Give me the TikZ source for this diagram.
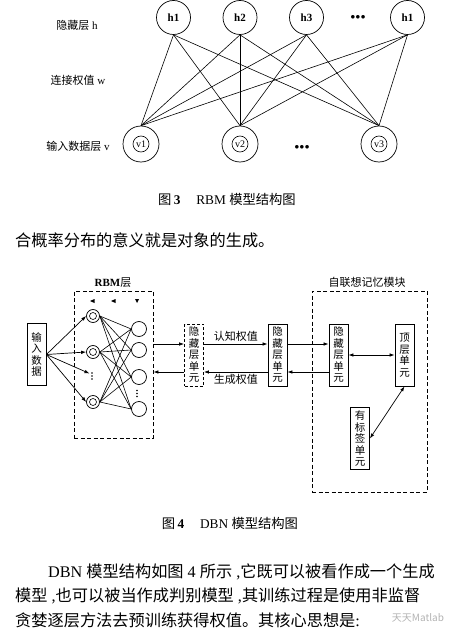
\documentclass[tikz,border=0pt]{standalone}
\usepackage{fontspec}
\setmainfont{Liberation Serif}
\newfontfamily\cjk{Noto Sans CJK SC}
\usetikzlibrary{arrows.meta,calc}
\tikzset{
  hnrn/.style={circle,draw,minimum size=34pt,inner sep=0pt,line width=0.7pt,font=\fontsize{11}{11}\selectfont\bfseries},
  vnrn/.style={circle,draw,minimum size=36pt,inner sep=0pt,line width=0.7pt},
  vin/.style={circle,draw,minimum size=16pt,inner sep=0pt,line width=0.6pt,font=\fontsize{10}{10}\selectfont},
  dotn/.style={inner sep=0pt,font=\fontsize{9}{9}\selectfont},
  lbl/.style={inner sep=1pt,font=\fontsize{11}{11}\selectfont},
  capt/.style={inner sep=0pt,font=\fontsize{13.3}{14}\selectfont},
  para/.style={anchor=west,inner sep=0pt,font=\fontsize{16.2}{18}\selectfont},
  unitblk/.style={draw,line width=0.8pt,inner sep=1pt,minimum width=19pt,minimum height=62pt,align=center,font=\cjk\fontsize{10.5}{11.5}\selectfont},
  dunitblk/.style={unitblk,dash pattern=on 3pt off 2pt},
  modbox/.style={draw,line width=0.8pt,dash pattern=on 4pt off 2.5pt,inner sep=0pt},
  rvis/.style={circle,draw,minimum size=13pt,inner sep=0pt,line width=0.7pt},
  rvin/.style={circle,draw,minimum size=7pt,inner sep=0pt,line width=0.6pt},
  rhid/.style={circle,draw,minimum size=15pt,inner sep=0pt,line width=0.7pt},
  wline/.style={line width=0.6pt},
  arr/.style={-{Latex[length=5pt,width=3.5pt]},line width=0.7pt},
  darr/.style={{Latex[length=5pt,width=3.5pt]}-{Latex[length=5pt,width=3.5pt]},line width=0.7pt}
}
\begin{document}
\begin{tikzpicture}[x=1pt,y=-1pt]
  \useasboundingbox (0,0) rectangle (462,639);
  % RBM hidden layer
  \node[hnrn] (h1) at (173.5,17.5) {h1};
  \node[hnrn] (h2) at (240,17.5) {h2};
  \node[hnrn] (h3) at (306.5,17.5) {h3};
  \node[dotn] (hdots) at (358,17) {$\bullet\!\bullet\!\bullet$};
  \node[hnrn] (hn) at (407.5,17.5) {h1};

  % RBM visible layer
  \node[vnrn] (v1) at (141,144) {};
  \node[vnrn] (v2) at (240,144) {};
  \node[dotn] (vdots) at (302,147) {$\bullet\!\bullet\!\bullet$};
  \node[vnrn] (v3) at (379,144) {};
  \node[vin] (v1in) at (v1) {v1};
  \node[vin] (v2in) at (v2) {v2};
  \node[vin] (v3in) at (v3) {v3};

  % weights
  \foreach \s in {h1,h2,h3,hn} \foreach \t in {v1,v2,v3}
    \draw[wline] (\s.south)--(\t.north);

  % left labels
  \node[lbl] (lblh) at (77,25) {{\cjk 隐藏层} h};
  \node[lbl] (lblw) at (78,80) {{\cjk 连接权值} w};
  \node[lbl] (lblv) at (78,146) {{\cjk 输入数据层} v};

  \node[capt] (cap3) at (227,199) {{\cjk 图}\,\textbf{3}\hspace{1.2em}RBM {\cjk 模型结构图}};
  \node[para] (txt1) at (15,240) {{\cjk 合概率分布的意义就是对象的生成。}};

  % DBN: input and RBM layer
  \node[unitblk] (inp) at (36.5,354.5) {输\\入\\数\\据};
  \node[modbox, minimum width=79pt, minimum height=147pt] (rbmbox) at (113.5,364.5) {};
  \node[lbl] (rbmlbl) at (113,283) {\textbf{RBM}{\cjk 层}};

  \node[rvis] (rv1) at (93,316) {};
  \node[rvis] (rv2) at (93,352) {};
  \coordinate (rvdots) at (92,376);
  \coordinate (rvdotsw) at (89.5,373.5);
  \node[rvis] (rv3) at (93,402) {};
  \foreach \v in {rv1,rv2,rv3}
    \node[rvin] (\v in) at (\v) {};

  \node[rhid] (rh1) at (139,329) {};
  \node[rhid] (rh2) at (139,350) {};
  \node[rhid] (rh3) at (139,377) {};
  \coordinate (rhdots) at (137,393.5);
  \node[rhid] (rh4) at (139,409) {};

  % dots and small marks
  \foreach \d in {-3,0,3} {
    \fill ($(rvdots)+(0,\d)$) circle (0.9pt);
    \fill ($(rhdots)+(0,\d)$) circle (0.9pt);
  }
  \fill (90,301)--(94.5,299)--(94.5,303)--cycle;
  \fill (111,301)--(115.5,299)--(115.5,303)--cycle;
  \fill (135,299)--(139,299)--(137,303)--cycle;

  \foreach \t in {rv1.west,rvdotsw,rv3.west}
    \draw[arr] (inp.east)--(\t);
  \draw[arr] (inp.east)--(rv2.west);
  \foreach \s in {rv1,rv2,rv3} \foreach \t in {rh1,rh2,rh3,rh4}
    \draw[wline] (\s.east)--(\t.west);

  % DBN: hidden units
  \node[dunitblk] (hu1) at (194,355) {隐\\藏\\层\\单\\元};
  \node[unitblk] (hu2) at (277.5,355) {隐\\藏\\层\\单\\元};
  \node[unitblk] (hu3) at (338.5,355) {隐\\藏\\层\\单\\元};

  \draw[arr] ($(rbmbox.east)+(0,-20.5)$) -- ($(hu1.west)+(0,-11)$);
  \draw[arr] ($(hu1.west)+(0,17)$) -- ($(rbmbox.east)+(0,7.5)$);
  \draw[arr] ($(hu1.east)+(0,-11)$) -- node[lbl, above=1pt] {\cjk 认知权值} ($(hu2.west)+(0,-11)$);
  \draw[arr] ($(hu2.west)+(0,17)$) -- node[lbl, below=1pt] {\cjk 生成权值} ($(hu1.east)+(0,17)$);
  \draw[arr] ($(hu2.east)+(0,-11)$) -- ($(hu3.west)+(0,-11)$);
  \draw[arr] ($(hu3.west)+(0,17)$) -- ($(hu2.east)+(0,17)$);

  % associative memory
  \node[modbox, minimum width=115pt, minimum height=201pt] (ambox) at (369.5,391.5) {};
  \node[lbl] (amlbl) at (367,282) {\cjk 自联想记忆模块};
  \node[unitblk] (top) at (404.5,355) {顶\\层\\单\\元};
  \node[unitblk] (lab) at (360,438.5) {有\\标\\签\\单\\元};
  \draw[darr] (hu3.east) -- (top.west);
  \draw[darr] (top.south) -- (lab.east);

  \node[capt] (cap4) at (230,523) {{\cjk 图}\,\textbf{4}\hspace{1.2em}DBN {\cjk 模型结构图}};

  % paragraph
  \node[para] (pl1) at (48,572) {DBN {\cjk 模型结构如图} 4 {\cjk 所示} ,{\cjk 它既可以被看作成一个生成}};
  \node[para] (pl2) at (15,596) {{\cjk 模型} ,{\cjk 也可以被当作成判别模型} ,{\cjk 其训练过程是使用非监督}};
  \node[para] (pl3) at (15,620) {{\cjk 贪婪逐层方法去预训练获得权值。其核心思想是}:};
  \node[inner sep=0pt, text=gray!60, font=\cjk\fontsize{10}{10}\selectfont] (wm) at (418,618) {天天Matlab};
\end{tikzpicture}
\end{document}
